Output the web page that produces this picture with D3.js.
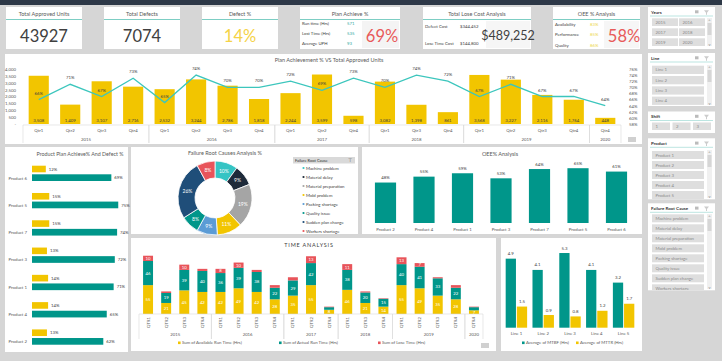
<!DOCTYPE html>
<html>
<head>
<meta charset="utf-8">
<script src="https://cdn.jsdelivr.net/npm/d3@7"></script>
<style>
  body { margin: 0; background: #d6d6d6; }
  svg { display: block; font-family: Lato, "Open Sans", sans-serif; }
</style>
</head>
<body>
<svg id="dash" width="722" height="361"></svg>
<script>
// ---------- data ----------
const qtrYears = ["2015","2015","2015","2015","2016","2016","2016","2016","2017","2017","2017","2018","2018","2018","2019","2019","2019","2019","2020"];
const qtrNames = ["Qtr1","Qtr2","Qtr3","Qtr4","Qtr1","Qtr2","Qtr3","Qtr4","Qtr1","Qtr2","Qtr4","Qtr1","Qtr3","Qtr4","Qtr1","Qtr2","Qtr3","Qtr4","Qtr4"];
const approvedUnits = [3508,1409,3107,2716,2532,3244,2786,1818,2244,3599,598,3082,1398,861,3568,3227,2116,1764,448];
const planAchieve = [66,71,67,73,65,74,70,70,72,69,73,70,74,72,67,71,67,67,64];

const availRun = [55,21,45,42,42,49,42,28,35,55,8,46,21,14,55,49,35,28,7];
const actualRun = [46,19,39,40,36,39,38,22,29,42,5,38,20,15,40,41,33,22,6];
const loseTime = [10,3,10,4,8,10,4,5,6,13,1,11,2,1,13,7,2,5,1];

const prodNames = ["Product 6","Product 5","Product 7","Product 3","Product 1","Product 4","Product 2"];
const prodDefect = [12,15,15,13,14,14,13];
const prodAchieve = [69,75,74,72,71,65,62];

const causes = ["Machine problem","Material delay","Material preparation","Mold problem","Packing shortage","Quality issue","Sudden plan change","Workers shortage"];
const causePct = [10,9,19,11,9,8,26,8];
const causeColors = ["#35c4c4","#1e2a3a","#a5a5a5","#f2c500","#5b9bd5","#00968a","#1f4e79","#e8545a"];

const oeeProducts = ["Product 2","Product 4","Product 1","Product 3","Product 7","Product 5","Product 6"];
const oeeValues = [48,55,59,53,64,65,61];

const lineNames = ["Line 1","Line 2","Line 3","Line 4","Line 5"];
const mtbf = [4.9,4.1,5.3,4.1,3.2];
const mttr = [1.5,0.9,0.8,1.2,1.7];

const sliceYears = ["2015","2016","2017","2018","2019","2020"];
const sliceLines = ["Line 1","Line 2","Line 3","Line 4"];
const sliceShift = ["1","2","3"];
const sliceProducts = ["Product 1","Product 2","Product 3","Product 4","Product 5"];

const YELLOW = "#f2c500", TEAL = "#00968a", RED = "#e8545a", GREY_TXT = "#595959";

const svg = d3.select("#dash");
svg.append("rect").attr("width", 722).attr("height", 361).attr("fill", "#d6d6d6");
svg.append("rect").attr("width", 722).attr("height", 5).attr("fill", "#2d3847");

function box(x, y, w, h, fill) {
  return svg.append("rect").attr("x", x).attr("y", y).attr("width", w).attr("height", h).attr("fill", fill || "#fff");
}
function txt(g, x, y, t, size, color, anchor, weight) {
  return g.append("text").attr("x", x).attr("y", y).text(t)
    .attr("font-size", size).attr("fill", color || GREY_TXT)
    .attr("text-anchor", anchor || "start").attr("font-weight", weight || "normal");
}

// ---------- KPI cards ----------
function card(x, w, title) {
  box(x, 7, w, 42);
  txt(svg, x + w / 2, 16, title, 5.5, GREY_TXT, "middle");
  svg.append("line").attr("x1", x).attr("x2", x + w).attr("y1", 19.5).attr("y2", 19.5)
    .attr("stroke", "#5cc2b5").attr("stroke-width", 0.8);
}
card(6, 76, "Total Approved Units");
txt(svg, 44, 41.5, "43927", 16.5, "#404040", "middle");
card(104, 76, "Total Defects");
txt(svg, 142, 41.5, "7074", 16.5, "#404040", "middle");
card(202, 76, "Defect %");
txt(svg, 240, 41.5, "14%", 16.5, "#f5d347", "middle");

card(300, 100, "Plan Achieve %");
box(362, 21, 37, 27, "#f4f4f4");
[["Run time (Hrs)", "571", 25], ["Lost Time (Hrs)", "535", 35], ["Average UPH", "93", 45]].forEach(r => {
  txt(svg, 302, r[2], r[0], 4.3, "#404040");
  txt(svg, 347, r[2], r[1], 4.3, "#2aa8a0");
});
txt(svg, 382, 41.5, "69%", 16.5, "#e85a5a", "middle");

card(423, 108, "Total Lose Cost Analysis");
box(486, 21, 44, 27, "#f6f6f6");
txt(svg, 425, 27.5, "Defect Cost", 4.3, "#404040");
txt(svg, 460, 27.5, "$344,452", 4.3, "#404040");
txt(svg, 425, 45, "Lose Time Cost", 4.3, "#404040");
txt(svg, 460, 45, "$144,800", 4.3, "#404040");
txt(svg, 508, 40, "$489,252", 12.5, "#404040", "middle");

card(553, 87, "OEE % Analysis");
box(604, 21, 35, 27, "#f6f6f6");
[["Availability", "83%", 25.5], ["Performance", "85%", 36], ["Quality", "86%", 47]].forEach(r => {
  txt(svg, 555, r[2], r[0], 4.3, "#404040");
  txt(svg, 590, r[2], r[1], 4.3, "#ecd64a");
});
txt(svg, 624, 41.5, "58%", 16.5, "#e85a5a", "middle");

// ---------- combo chart: plan achievement vs approved units ----------
box(5, 54, 637, 90);
txt(svg, 329, 62, "Plan Achievement % VS Total Approved Units", 5.5, GREY_TXT, "middle");

const cx = d3.scaleBand().domain(d3.range(qtrNames.length)).range([23, 621]).paddingInner(0.36).paddingOuter(0.18);
const cyL = d3.scaleLinear().domain([0, 4000]).range([124, 69]);
const cyR = d3.scaleLinear().domain([58, 76]).range([124, 69]);

const combo = svg.append("g");
const axL = combo.append("g").attr("transform", "translate(19,0)")
  .call(d3.axisLeft(cyL).tickValues(d3.range(0, 4001, 500)).tickSize(0)
    .tickFormat(d => d === 0 ? "-" : d3.format(",")(d)));
const axR = combo.append("g").attr("transform", "translate(626,0)")
  .call(d3.axisRight(cyR).tickValues(d3.range(58, 77, 2)).tickSize(0).tickFormat(d => d + "%"));
[axL, axR].forEach(a => {
  a.select(".domain").remove();
  a.selectAll("text").attr("font-size", 4.3).attr("fill", GREY_TXT).attr("font-family", "Lato, sans-serif");
});

combo.selectAll("rect.bar").data(approvedUnits).enter().append("rect")
  .attr("x", (d, i) => cx(i)).attr("width", cx.bandwidth())
  .attr("y", d => cyL(d)).attr("height", d => cyL(0) - cyL(d)).attr("fill", YELLOW);
combo.selectAll("text.bv").data(approvedUnits).enter().append("text")
  .attr("x", (d, i) => cx(i) + cx.bandwidth() / 2).attr("y", 121.5)
  .attr("text-anchor", "middle").attr("font-size", 4.3).attr("fill", "#404040")
  .text(d => d3.format(",")(d));

const line = d3.line().x((d, i) => cx(i) + cx.bandwidth() / 2).y(d => cyR(d));
combo.append("path").datum(planAchieve).attr("d", line)
  .attr("fill", "none").attr("stroke", "#3cc6bd").attr("stroke-width", 1.3);
combo.selectAll("text.pv").data(planAchieve).enter().append("text")
  .attr("x", (d, i) => cx(i) + cx.bandwidth() / 2).attr("y", d => cyR(d) - 5)
  .attr("text-anchor", "middle").attr("font-size", 4.3).attr("fill", "#404040")
  .text(d => d + "%");

// multi-level category axis
function yearGroups(years) {
  const groups = [];
  years.forEach((y, i) => {
    if (!groups.length || groups[groups.length - 1].year !== y) groups.push({ year: y, start: i, end: i });
    else groups[groups.length - 1].end = i;
  });
  return groups;
}
function categoryAxis(g, scale, x0, yTop, yBot, yYear) {
  const step = scale.step();
  g.append("line").attr("x1", x0).attr("x2", x0 + step * qtrYears.length)
    .attr("y1", yTop).attr("y2", yTop).attr("stroke", "#d9d9d9").attr("stroke-width", 0.6);
  yearGroups(qtrYears).forEach(gr => {
    const a = x0 + gr.start * step, b = x0 + (gr.end + 1) * step;
    [a, b].forEach(x => g.append("line").attr("x1", x).attr("x2", x).attr("y1", yTop).attr("y2", yBot)
      .attr("stroke", "#d9d9d9").attr("stroke-width", 0.6));
    txt(g, (a + b) / 2, yYear, gr.year, 4.3, GREY_TXT, "middle");
  });
}
categoryAxis(combo, cx, 23, 125, 143, 140.5);
combo.selectAll("text.qn").data(qtrNames).enter().append("text")
  .attr("x", (d, i) => cx(i) + cx.bandwidth() / 2).attr("y", 132)
  .attr("text-anchor", "middle").attr("font-size", 4.3).attr("fill", GREY_TXT).text(d => d);
box(628, 137, 8, 5, "#d0d0d0");

// ---------- product plan achieve / defect ----------
box(5, 147, 123, 205);
txt(svg, 80, 155.5, "Product Plan Achieve% And  Defect %", 5.3, GREY_TXT, "middle");
const px = d3.scaleLinear().domain([0, 100]).range([32, 147]);
const py = d3.scaleBand().domain(prodNames).range([162, 353]);
const prod = svg.append("g");
prodNames.forEach((p, i) => {
  const y0 = py(p);
  txt(prod, 27, y0 + 17.5, p, 4.3, GREY_TXT, "end");
  prod.append("rect").attr("x", px(0)).attr("y", y0 + 3.7).attr("width", px(prodDefect[i]) - px(0)).attr("height", 6.6).attr("fill", YELLOW);
  prod.append("rect").attr("x", px(0)).attr("y", y0 + 12.3).attr("width", px(prodAchieve[i]) - px(0)).attr("height", 6.7).attr("fill", TEAL);
  txt(prod, px(prodDefect[i]) + 3, y0 + 8.5, prodDefect[i] + "%", 4.3, "#404040");
  txt(prod, px(prodAchieve[i]) + 3, y0 + 17.3, prodAchieve[i] + "%", 4.3, "#404040");
});

// ---------- failure root causes donut ----------
box(131, 147, 227, 87);
txt(svg, 225, 154.5, "Failure Root Causes Analysis %", 5.5, GREY_TXT, "middle");
const pie = d3.pie().sort(null)(causePct);
const arc = d3.arc().innerRadius(20).outerRadius(37);
const donut = svg.append("g").attr("transform", "translate(215,198)");
donut.selectAll("path").data(pie).enter().append("path")
  .attr("d", arc).attr("fill", (d, i) => causeColors[i]).attr("stroke", "#fff").attr("stroke-width", 0.8);
donut.selectAll("text").data(pie).enter().append("text")
  .attr("transform", d => "translate(" + arc.centroid(d) + ")").attr("dy", "0.35em")
  .attr("text-anchor", "middle").attr("font-size", 5).attr("fill", "#fff").text(d => d.data + "%");

box(293, 157, 62, 6.5, "#d9d9d9");
txt(svg, 295, 161.8, "Failure Root Cause", 4, "#333");
txt(svg, 352, 162, "⊤", 4.5, "#555", "end");
causes.forEach((c, i) => {
  svg.append("circle").attr("cx", 303.5).attr("cy", 168 + i * 9).attr("r", 1.1).attr("fill", causeColors[i]);
  txt(svg, 306, 169.5 + i * 9, c, 4.3, "#404040");
});

// ---------- OEE % analysis ----------
box(362, 147, 280, 87);
txt(svg, 500, 155.5, "OEE% Analysis", 5.5, GREY_TXT, "middle");
const ox = d3.scaleBand().domain(oeeProducts).range([366.25, 635.75]).paddingInner(0.45).paddingOuter(0.225);
const oy = d3.scaleLinear().domain([0, 100]).range([223, 138.7]);
const oee = svg.append("g");
oee.selectAll("rect").data(oeeValues).enter().append("rect")
  .attr("x", (d, i) => ox(oeeProducts[i])).attr("width", ox.bandwidth())
  .attr("y", d => oy(d)).attr("height", d => oy(0) - oy(d)).attr("fill", TEAL);
oee.selectAll("text.v").data(oeeValues).enter().append("text")
  .attr("x", (d, i) => ox(oeeProducts[i]) + ox.bandwidth() / 2).attr("y", d => oy(d) - 3.5)
  .attr("text-anchor", "middle").attr("font-size", 4.3).attr("fill", "#404040").text(d => d + "%");
oee.selectAll("text.c").data(oeeProducts).enter().append("text")
  .attr("x", d => ox(d) + ox.bandwidth() / 2).attr("y", 230.5)
  .attr("text-anchor", "middle").attr("font-size", 4.3).attr("fill", GREY_TXT).text(d => d);

// ---------- time analysis ----------
box(131, 238, 365, 113);
txt(svg, 309, 247, "TIME ANALYSIS", 5.5, "#404040", "middle").attr("letter-spacing", 0.8);
const tx = d3.scaleBand().domain(d3.range(qtrNames.length)).range([139, 483]).paddingInner(0.45).paddingOuter(0.225);
const ty = d3.scaleLinear().domain([0, 120]).range([314, 251]);
const timeRows = availRun.map((d, i) => ({ i: i, avail: d, actual: actualRun[i], lose: loseTime[i] }));
const timeKeys = ["avail", "actual", "lose"];
const timeColors = [YELLOW, TEAL, RED];
const stack = d3.stack().keys(timeKeys)(timeRows);
const time = svg.append("g");
stack.forEach((layer, k) => {
  time.selectAll("rect.s" + k).data(layer).enter().append("rect")
    .attr("x", d => tx(d.data.i)).attr("width", tx.bandwidth())
    .attr("y", d => ty(d[1])).attr("height", d => ty(d[0]) - ty(d[1])).attr("fill", timeColors[k]);
  time.selectAll("text.s" + k).data(layer.filter(d => ty(d[0]) - ty(d[1]) > 3.5)).enter().append("text")
    .attr("x", d => tx(d.data.i) + tx.bandwidth() / 2).attr("y", d => (ty(d[0]) + ty(d[1])) / 2).attr("dy", "0.35em")
    .attr("text-anchor", "middle").attr("font-size", 4.3).attr("fill", "#fff").text(d => d[1] - d[0]);
});
categoryAxis(time, tx, 139, 314, 339, 335.5);
time.selectAll("text.q").data(qtrNames).enter().append("text")
  .attr("transform", (d, i) => "translate(" + (tx(i) + tx.bandwidth() / 2 + 1.5) + ",317) rotate(-90)")
  .attr("text-anchor", "end").attr("font-size", 4.3).attr("fill", GREY_TXT).text(d => d.toUpperCase());
[["Sum of Available Run Time (Hrs)", 178, YELLOW], ["Sum of Actual Run Time (Hrs)", 279, TEAL], ["Sum of Lose Time (Hrs)", 378, RED]].forEach(l => {
  time.append("rect").attr("x", l[1]).attr("y", 341.5).attr("width", 2.6).attr("height", 2.6).attr("fill", l[2]);
  txt(time, l[1] + 4, 344.3, l[0], 4.3, GREY_TXT);
});
box(481, 343, 8, 5, "#d0d0d0");

// ---------- MTBF / MTTR ----------
box(501, 238, 141, 113);
const mx = d3.scaleBand().domain(lineNames).range([503, 637]).paddingInner(0.2).paddingOuter(0.1);
const mIn = d3.scaleBand().domain(["mtbf", "mttr"]).range([0, mx.bandwidth()]).paddingInner(0.08);
const my = d3.scaleLinear().domain([0, 5.5]).range([327.7, 250.2]);
const mt = svg.append("g");
lineNames.forEach((l, i) => {
  [["mtbf", mtbf[i], TEAL], ["mttr", mttr[i], YELLOW]].forEach(s => {
    const x = mx(l) + mIn(s[0]);
    mt.append("rect").attr("x", x).attr("width", mIn.bandwidth()).attr("y", my(s[1]))
      .attr("height", my(0) - my(s[1])).attr("fill", s[2]);
    txt(mt, x + mIn.bandwidth() / 2, my(s[1]) - 3.5, d3.format(".1f")(s[1]), 4.3, "#404040", "middle");
  });
  txt(mt, mx(l) + mx.bandwidth() / 2, 335, l, 4.3, GREY_TXT, "middle");
});
[["Average of MTBF (Hrs)", 522, TEAL], ["Average of MTTR (Hrs)", 576, YELLOW]].forEach(l => {
  mt.append("rect").attr("x", l[1]).attr("y", 341.5).attr("width", 2.6).attr("height", 2.6).attr("fill", l[2]);
  txt(mt, l[1] + 4, 344.3, l[0], 4.3, GREY_TXT);
});

// ---------- slicers ----------
function slicer(y, h, title) {
  box(648, y, 67, h);
  txt(svg, 651, y + 6.5, title, 4.5, "#333", "start", "bold");
  svg.append("rect").attr("x", 695).attr("y", y + 3.3).attr("width", 3.5).attr("height", 3).attr("fill", "#bbb");
  svg.append("path").attr("d", `M704,${y + 3.3}h5l-2,2.5v2h-1v-2z`).attr("fill", "#ccc");
  svg.append("line").attr("x1", 650).attr("x2", 713).attr("y1", y + 9).attr("y2", y + 9)
    .attr("stroke", "#8fd3cc").attr("stroke-width", 0.6);
}
function button(x, y, w, h, t) {
  box(x, y, w, h, "#dedede");
  txt(svg, x + 3.5, y + h / 2 + 1.5, t, 4.3, "#8a8a8a");
}
function scrollbar(y0, y1) {
  box(707, y0, 5, y1 - y0, "#f0f0f0");
  box(707.5, y0 + 5, 4, Math.min(12, y1 - y0 - 10), "#d6d6d6");
  txt(svg, 709.5, y0 + 4, "^", 4, "#777", "middle");
  txt(svg, 709.5, y1 - 0.5, "v", 4, "#777", "middle");
}

slicer(7, 42, "Years");
sliceYears.forEach((yr, i) => button(652 + (i % 2) * 27, 18.3 + Math.floor(i / 2) * 10, 26, 7.7, yr));
scrollbar(18, 46);

slicer(53, 53, "Line");
sliceLines.forEach((l, i) => button(652, 65.7 + i * 10.3, 52, 8.3, l));
scrollbar(65, 105);

slicer(111.5, 21.5, "Shift");
sliceShift.forEach((s, i) => button(652 + i * 20.5, 122.5, 18, 7.5, s));

slicer(138.3, 61, "Product");
sliceProducts.forEach((p, i) => button(652, 151 + i * 10, 52, 8, p));
scrollbar(150, 198);

slicer(203.3, 87, "Failure Root Cause");
const clip = svg.append("clipPath").attr("id", "fr").append("rect")
  .attr("x", 648).attr("y", 203).attr("width", 67).attr("height", 87);
const frg = svg.append("g").attr("clip-path", "url(#fr)");
causes.forEach((c, i) => {
  frg.append("rect").attr("x", 652).attr("y", 214.3 + i * 10).attr("width", 52).attr("height", 8).attr("fill", "#dedede");
  txt(frg, 655.5, 219.8 + i * 10, c, 4.3, "#8a8a8a");
});
scrollbar(214, 289);
</script>
</body>
</html>
